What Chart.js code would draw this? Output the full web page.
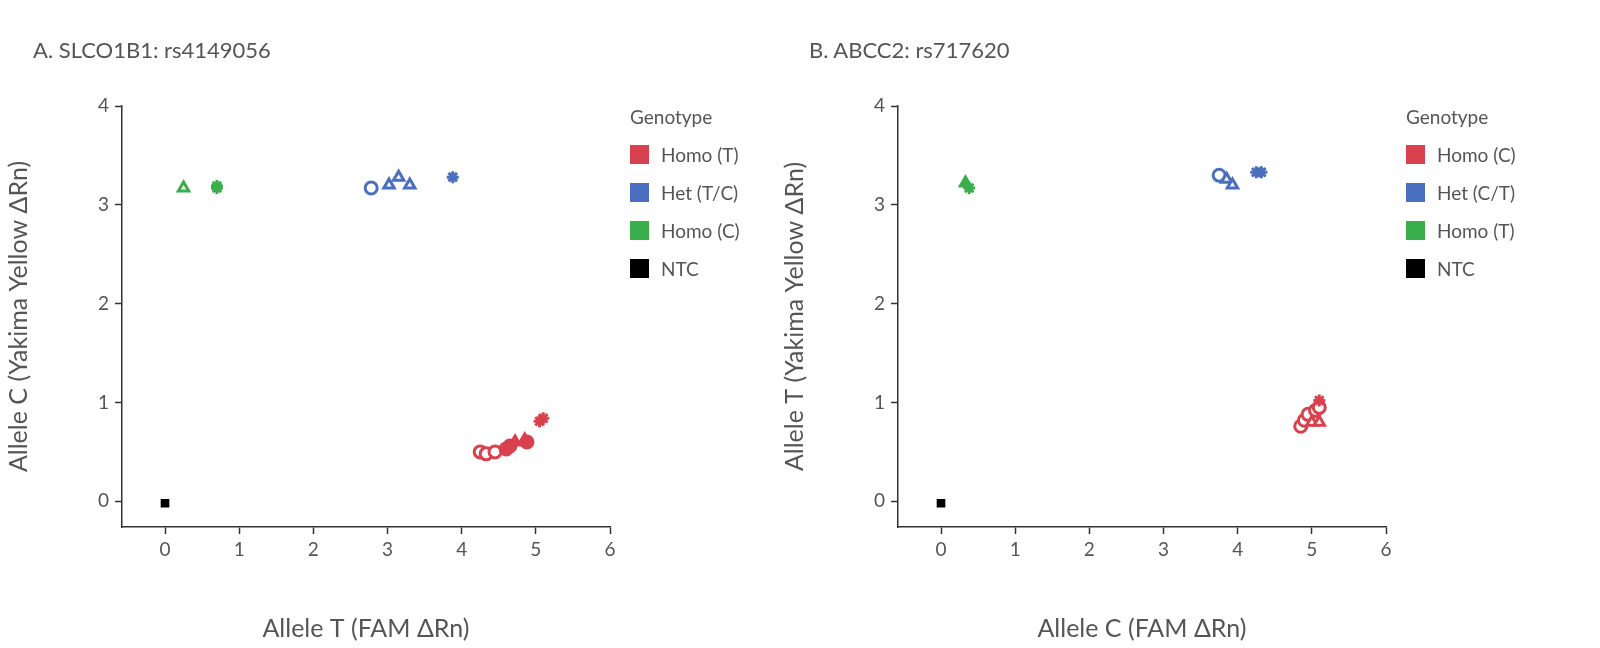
<!DOCTYPE html>
<html><head><meta charset="utf-8">
<script src="https://cdn.jsdelivr.net/npm/chart.js@4"></script>
<style>
body{margin:0;background:#fff;font-family:Lato,"Open Sans",sans-serif;color:#555}
.wrap{position:absolute;top:0;width:800px;height:648px}
.title{position:absolute;left:33px;top:36px;font-size:22px;color:#555}
.legend{position:absolute;left:630px;top:97px;font-size:19px;color:#555}
.legend div{height:38px;display:flex;align-items:center}
.legend span{display:inline-block;width:19px;height:19px;margin-right:12px}
</style></head><body>
<div class="wrap" style="left:0"><canvas id="c1" width="800" height="648"></canvas>
<div class="title">A. SLCO1B1: rs4149056</div>
<div class="legend" id="l1"></div></div>
<div class="wrap" style="left:776px"><canvas id="c2" width="800" height="648"></canvas>
<div class="title">B. ABCC2: rs717620</div>
<div class="legend" id="l2"></div></div>
<script>
const red = "#d9414e", blue = "#4a6ec0", green = "#3aae4a", black = "#000";
const xTicks = [0, 1, 2, 3, 4, 5, 6];
const yTicks = [0, 1, 2, 3, 4];

// Panel A points: [x, y, style, filled]
const aHomoT = [[4.25,0.5,"circle"],[4.33,0.48,"circle"],[4.45,0.5,"circle"],[4.6,0.53,"circle",1],[4.65,0.56,"circle",1],[4.72,0.6,"triangle",1],[4.85,0.62,"triangle",1],[4.88,0.6,"circle",1],[5.05,0.81,"star"],[5.1,0.84,"star"]];
const aHet = [[2.78,3.17,"circle"],[3.02,3.2,"triangle"],[3.15,3.28,"triangle"],[3.3,3.2,"triangle"],[3.88,3.28,"star"]];
const aHomoC = [[0.25,3.17,"triangle"],[0.7,3.17,"star"],[0.7,3.19,"star"]];
const aNtc = [[0,-0.02,"rect",1]];
const aLabels = ["Homo (T)", "Het (T/C)", "Homo (C)", "NTC"];

// Panel B
const bHomoC = [[4.85,0.76,"circle"],[4.9,0.82,"circle"],[4.95,0.88,"circle"],[5.05,0.92,"circle"],[5.1,0.95,"circle"],[5.0,0.8,"triangle"],[5.1,0.8,"triangle"],[5.1,1.02,"star"]];
const bHet = [[3.75,3.3,"circle"],[3.85,3.26,"triangle"],[3.93,3.2,"triangle"],[4.25,3.33,"star"],[4.32,3.33,"star"]];
const bHomoT = [[0.33,3.22,"triangle",1],[0.38,3.17,"star"]];
const bNtc = [[0,-0.02,"rect",1]];
const bLabels = ["Homo (C)", "Het (C/T)", "Homo (T)", "NTC"];
const colors = [red, blue, green, black];

function ds(pts, col) {
  return {
    data: pts.map(p => ({x: p[0], y: p[1]})),
    pointStyle: pts.map(p => p[2]),
    backgroundColor: pts.map(p => (p[3] || p[2] === "star") ? col : "#fff"),
    borderColor: col,
    borderWidth: 3,
    pointRadius: pts.map(p => p[2] === "rect" ? 4 : 6),
  };
}

function makeChart(id, sets, xTitle, yTitle) {
  new Chart(document.getElementById(id), {
    type: "scatter",
    data: { datasets: sets.map((s, i) => ds(s, colors[i])) },
    options: {
      responsive: false, animation: false,
      layout: { padding: { top: 106, right: 190, left: 0, bottom: 0 } },
      plugins: { legend: { display: false }, tooltip: { enabled: false } },
      scales: {
        x: {
          min: -0.58, max: 6,
          afterBuildTicks: s => { s.ticks = xTicks.map(v => ({value: v})); },
          afterFit: s => { s.height = 121; },
          grid: { display: true, drawOnChartArea: false, drawTicks: true, tickLength: 7, color: "#333", tickWidth: 1.5 },
          border: { color: "#333", width: 1.5 },
          ticks: { color: "#555", font: { size: 19, family: "Lato" }, padding: 4 },
          title: { display: true, text: xTitle, color: "#555", font: { size: 25, family: "Lato" }, padding: { top: 14 } }
        },
        y: {
          min: -0.26, max: 4,
          afterBuildTicks: s => { s.ticks = yTicks.map(v => ({value: v})); },
          afterFit: s => { s.width = 122; },
          grid: { display: true, drawOnChartArea: false, drawTicks: true, tickLength: 7, color: "#333", tickWidth: 1.5 },
          border: { color: "#333", width: 1.5 },
          ticks: { color: "#555", font: { size: 19, family: "Lato" }, padding: 6 },
          title: { display: true, text: yTitle, color: "#555", font: { size: 25, family: "Lato" }, padding: { bottom: 14 } }
        }
      }
    }
  });
}

function legend(id, labels) {
  const el = document.getElementById(id);
  el.innerHTML = "<div>Genotype</div>" + labels.map((l, i) =>
    `<div><span style="background:${colors[i]}"></span>${l}</div>`).join("");
}

makeChart("c1", [aHomoT, aHet, aHomoC, aNtc], "Allele T (FAM ΔRn)", "Allele C (Yakima Yellow ΔRn)");
makeChart("c2", [bHomoC, bHet, bHomoT, bNtc], "Allele C (FAM ΔRn)", "Allele T (Yakima Yellow ΔRn)");
legend("l1", aLabels);
legend("l2", bLabels);
</script>
</body></html>
